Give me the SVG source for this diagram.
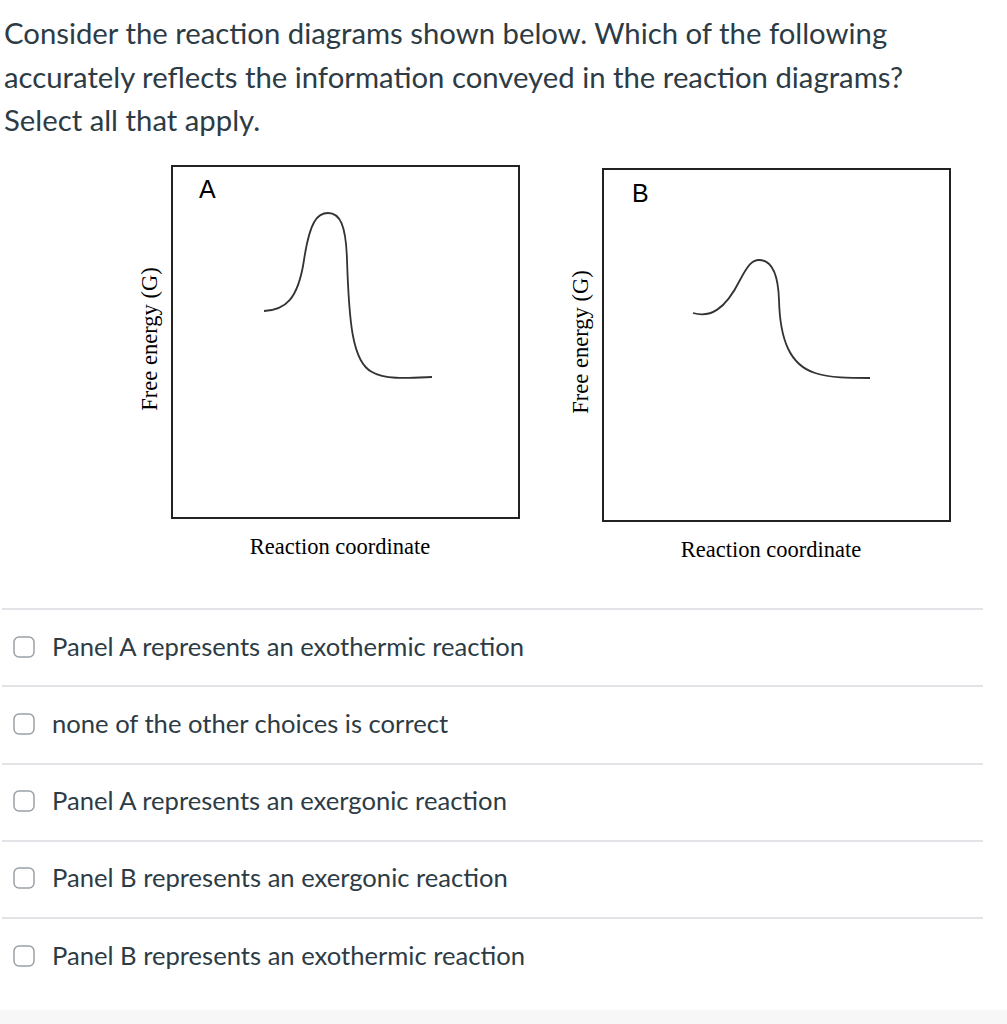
<svg xmlns="http://www.w3.org/2000/svg" width="1007" height="1024" viewBox="0 0 1007 1024">
<style>
.q{font-family:Lato,"Liberation Sans",sans-serif;font-size:29.3px;fill:#2d3b45}
.o{font-family:Lato,"Liberation Sans",sans-serif;font-size:25.6px;fill:#2d3b45}
.ax{font-family:"Liberation Serif",serif;font-size:22.5px;fill:#000}
.lab{font-family:"Liberation Sans",sans-serif;font-size:25px;fill:#000}
.box{fill:#fff;stroke:#222;stroke-width:2}
.crv{fill:none;stroke:#333;stroke-width:1.8}
.sep{stroke:#d8dbdf;stroke-width:1.5}
.cb{fill:#fff;stroke:#9aa1a8;stroke-width:1.5}
</style>
<rect width="1007" height="1024" fill="#fff"/>
<text class="q" x="4" y="44">Consider the reaction diagrams shown below. Which of the following</text>
<text class="q" x="4" y="88">accurately reflects the information conveyed in the reaction diagrams?</text>
<text class="q" x="4" y="131">Select all that apply.</text>
<g id="panelA">
<rect class="box" x="172" y="166" width="347" height="352"/>
<text class="lab" x="199" y="198">A</text>
<path class="crv" d="M264,311 C285,310 298,300 304,260 C310,220 318,213 328,213 C340,213 346,225 347,260 C349,320 352,362 372,372 C385,380 410,378 432,377"/>
<text class="ax" transform="translate(157,339) rotate(-90)" text-anchor="middle">Free energy (G)</text>
<text class="ax" x="340" y="554" text-anchor="middle">Reaction coordinate</text>
</g>
<g id="panelB">
<rect class="box" x="603" y="169" width="347" height="352"/>
<text class="lab" x="632" y="202">B</text>
<path class="crv" d="M693,313 C710,318 725,310 740,280 C748,265 752,260 759,260 C770,260 778,270 779,300 C780,340 790,365 815,373 C830,378 850,378 870,378"/>
<text class="ax" transform="translate(588,342) rotate(-90)" text-anchor="middle">Free energy (G)</text>
<text class="ax" x="771" y="557" text-anchor="middle">Reaction coordinate</text>
</g>
<g id="options">
<line class="sep" x1="2" y1="609" x2="983" y2="609"/>
<line class="sep" x1="2" y1="686" x2="983" y2="686"/>
<line class="sep" x1="2" y1="764" x2="983" y2="764"/>
<line class="sep" x1="2" y1="841" x2="983" y2="841"/>
<line class="sep" x1="2" y1="918" x2="983" y2="918"/>
<rect class="cb" x="14" y="637" width="20" height="20" rx="5"/>
<rect class="cb" x="14" y="714" width="20" height="20" rx="5"/>
<rect class="cb" x="14" y="791" width="20" height="20" rx="5"/>
<rect class="cb" x="14" y="868" width="20" height="20" rx="5"/>
<rect class="cb" x="14" y="946" width="20" height="20" rx="5"/>
<text class="o" x="52" y="656">Panel A represents an exothermic reaction</text>
<text class="o" x="52" y="733">none of the other choices is correct</text>
<text class="o" x="52" y="810">Panel A represents an exergonic reaction</text>
<text class="o" x="52" y="887">Panel B represents an exergonic reaction</text>
<text class="o" x="52" y="965">Panel B represents an exothermic reaction</text>
</g>
<rect x="0" y="1010" width="1007" height="14" fill="#f7f7f7"/>
</svg>
